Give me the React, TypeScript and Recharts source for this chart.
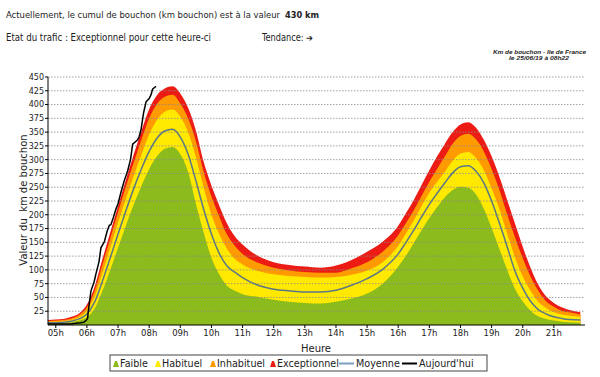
import React from 'react';
import { ComposedChart, Area, Line, XAxis, YAxis, ReferenceLine } from 'recharts';

const hours = [4.75, 5.0, 5.25, 5.5, 5.75, 6.0, 6.25, 6.5, 6.75, 7.0, 7.25, 7.5, 7.75, 8.0, 8.25, 8.5, 8.75, 9.0, 9.25, 9.5, 9.75, 10.0, 10.25, 10.5, 10.75, 11.0, 11.5, 12.0, 12.5, 13.0, 13.5, 14.0, 14.5, 15.0, 15.5, 16.0, 16.25, 16.5, 16.75, 17.0, 17.25, 17.5, 17.75, 18.0, 18.25, 18.5, 18.75, 19.0, 19.25, 19.5, 19.75, 20.0, 20.25, 20.5, 20.75, 21.0, 21.25, 21.5, 21.85];

const exceptionnel = [9, 10, 11, 15, 21, 37, 70, 120, 168, 216, 263, 309, 352, 392, 417, 429, 433, 420, 394, 353, 296, 253, 217, 184, 161, 146, 125, 114, 109, 106, 104, 108, 118, 133, 151, 180, 203, 227, 254, 281, 306, 329, 350, 364, 368, 358, 336, 306, 269, 227, 184, 142, 104, 73, 52, 40, 32, 27, 23];
const inhabituel = [7, 8, 9, 12, 18, 32, 62, 110, 157, 205, 251, 294, 336, 375, 401, 414, 418, 402, 375, 334, 278, 233, 197, 164, 144, 129, 113, 104, 99, 96, 95, 95, 103, 114, 133, 163, 185, 208, 234, 260, 283, 306, 329, 343, 347, 337, 315, 283, 245, 201, 159, 121, 88, 62, 43, 33, 26, 23, 19];
const habituel = [6, 6, 7, 9, 14, 26, 52, 95, 140, 186, 229, 270, 309, 346, 372, 387, 391, 378, 350, 305, 250, 200, 165, 138, 120, 110, 98, 92, 89, 87, 86, 87, 91, 99, 114, 144, 166, 190, 216, 240, 260, 278, 298, 311, 314, 303, 281, 248, 210, 166, 123, 88, 62, 42, 31, 23, 19, 17, 15];
const moyenne = [4, 4, 5, 7, 11, 20, 42, 80, 122, 165, 207, 247, 283, 315, 339, 352, 355, 341, 310, 262, 210, 165, 130, 107, 96, 86, 72, 65, 62, 60, 60, 63, 72, 84, 101, 129, 150, 172, 196, 219, 239, 258, 276, 287, 289, 279, 258, 225, 185, 142, 98, 67, 43, 28, 20, 15, 12, 10, 9];
const faible = [3, 3, 4, 5, 8, 14, 30, 62, 100, 140, 180, 218, 252, 283, 306, 320, 323, 310, 278, 220, 168, 122, 92, 71, 62, 56, 51, 46, 42, 40, 39, 42, 48, 57, 75, 106, 126, 149, 172, 194, 214, 232, 245, 251, 249, 237, 211, 176, 138, 100, 66, 43, 26, 16, 11, 8, 6, 5, 4];

const todayHours = [4.75, 5.0, 5.25, 5.5, 5.65, 5.8, 5.9, 5.97, 6.02, 6.07, 6.13, 6.23, 6.3, 6.39, 6.45, 6.56, 6.65, 6.72, 6.77, 6.85, 6.93, 7.0, 7.09, 7.2, 7.31, 7.4, 7.47, 7.55, 7.63, 7.68, 7.74, 7.82, 7.9, 8.0, 8.06, 8.11, 8.17, 8.22];
const todayValues = [2, 2, 2, 2, 3, 4, 5, 8, 12, 36, 62, 78, 95, 115, 140, 151, 170, 181, 182, 195, 210, 220, 240, 262, 280, 300, 328, 332, 336, 342, 355, 385, 405, 411, 418, 428, 431, 433];

const xTicks = [5, 6, 7, 8, 9, 10, 11, 12, 13, 14, 15, 16, 17, 18, 19, 20, 21];
const yTicks = [25, 50, 75, 100, 125, 150, 175, 200, 225, 250, 275, 300, 325, 350, 375, 400, 425, 450];

const legendItems = [
  { name: 'Faible', color: '#8cbb1d', kind: 'area' },
  { name: 'Habituel', color: '#ffe900', kind: 'area' },
  { name: 'Inhabituel', color: '#ff9a00', kind: 'area' },
  { name: 'Exceptionnel', color: '#ec1c14', kind: 'area' },
  { name: 'Moyenne', color: '#7a9ec0', kind: 'line' },
  { name: "Aujourd'hui", color: '#000000', kind: 'line' },
];
const legendX = [113, 155, 210, 270, 339, 402];

const data = hours.map((h, i) => ({
  h,
  exc: exceptionnel[i],
  inh: inhabituel[i],
  hab: habituel[i],
  moy: moyenne[i],
  fai: faible[i],
}));
const todayData = todayHours.map((h, i) => ({ h, today: todayValues[i] }));

const FONT = "'DejaVu Sans', Verdana, sans-serif";
const FONT_C = "'DejaVu Sans Condensed', 'DejaVu Sans', sans-serif";
const fmtHour = (v: number) => (v < 10 ? '0' : '') + v + 'h';

export default function App() {
  return (
    <div style={{ position: 'absolute', left: 0, top: 0, width: 600, height: 377, background: '#fff', fontFamily: FONT }}>
      <ComposedChart
        width={600}
        height={377}
        data={data}
        margin={{ top: 77, right: 15, left: 8, bottom: 32 }}
      >
        <XAxis
          type="number"
          dataKey="h"
          domain={[4.75, 22]}
          ticks={xTicks}
          interval={0}
          tickFormatter={fmtHour}
          allowDataOverflow
          height={20}
          tickSize={3}
          tickMargin={2}
          axisLine={{ stroke: '#000', strokeWidth: 1 }}
          tickLine={{ stroke: '#000' }}
          tick={{ fontSize: 8.5, fill: '#222', fontFamily: FONT }}
        />
        <YAxis
          type="number"
          domain={[0, 450]}
          ticks={yTicks}
          interval={0}
          width={40}
          tickSize={3}
          tickMargin={1}
          axisLine={{ stroke: '#000', strokeWidth: 1 }}
          tickLine={{ stroke: '#000' }}
          tick={{ fontSize: 8, fill: '#222', fontFamily: FONT }}
        />
        <Area type="monotone" dataKey="exc" stroke="none" fill="#ec1c14" fillOpacity={1} isAnimationActive={false} />
        <Area type="monotone" dataKey="inh" stroke="none" fill="#ff9a00" fillOpacity={1} isAnimationActive={false} />
        <Area type="monotone" dataKey="hab" stroke="none" fill="#ffe900" fillOpacity={1} isAnimationActive={false} />
        <Area type="monotone" dataKey="fai" stroke="none" fill="#8cbb1d" fillOpacity={1} isAnimationActive={false} />
        {yTicks.map((v) => (
          <ReferenceLine key={v} y={v} stroke="#8a8a8a" strokeWidth={0.8} strokeDasharray="1.5 1.5" />
        ))}
        <Line type="monotone" dataKey="moy" stroke="#5d7686" strokeWidth={1.5} dot={false} isAnimationActive={false} />
        <Line data={todayData} type="linear" dataKey="today" stroke="#000" strokeWidth={1.5} dot={false} isAnimationActive={false} />
      </ComposedChart>
      <svg width={600} height={377} style={{ position: 'absolute', left: 0, top: 0, pointerEvents: 'none' }} fontFamily={FONT}>
        <text x={6} y={18} fontSize={9.2} fontFamily={FONT_C} fill="#222" textLength={274} lengthAdjust="spacingAndGlyphs">
          Actuellement, le cumul de bouchon (km bouchon) est à la valeur
        </text>
        <text x={285} y={18} fontSize={9.2} fontFamily={FONT_C} fontWeight="bold" fill="#222" textLength={34} lengthAdjust="spacingAndGlyphs">
          430 km
        </text>
        <text x={6} y={41} fontSize={9.6} fontFamily={FONT_C} fill="#222" textLength={205} lengthAdjust="spacingAndGlyphs">
          Etat du trafic : Exceptionnel pour cette heure-ci
        </text>
        <text x={262} y={41} fontSize={9.6} fontFamily={FONT_C} fill="#222" textLength={51} lengthAdjust="spacingAndGlyphs">
          Tendance: ➔
        </text>
        <text x={586} y={53.5} fontSize={6} fontFamily="'Liberation Sans', Arial, sans-serif" fontStyle="italic" fontWeight="bold" fill="#222" textAnchor="end" textLength={93} lengthAdjust="spacingAndGlyphs">
          Km de bouchon - Ile de France
        </text>
        <text x={569} y={60} fontSize={6} fontFamily="'Liberation Sans', Arial, sans-serif" fontStyle="italic" fontWeight="bold" fill="#222" textAnchor="end" textLength={60} lengthAdjust="spacingAndGlyphs">
          le 25/06/19 à 08h22
        </text>
        <text x={23} y={200} fontSize={10} fill="#222" textAnchor="middle" dominantBaseline="central" transform="rotate(-90 23 200)" style={{ whiteSpace: 'pre' }}>
          Valeur du  km de bouchon
        </text>
        <text x={316} y={352} fontSize={10} fill="#222" textAnchor="middle">Heure</text>
        <rect x={110} y={355} width={377} height={16} fill="#fff" stroke="#444" strokeWidth={1} />
        {legendItems.map((it, i) => {
          const x = legendX[i];
          return (
            <g key={it.name}>
              {it.kind === 'area' ? (
                <polygon points={`${x},${367} ${x + 2},${361} ${x + 4},${361} ${x + 6},${367}`} fill={it.color} />
              ) : (
                <line x1={x} y1={363.5} x2={x + 15} y2={363.5} stroke={it.color} strokeWidth={2} />
              )}
              <text x={it.kind === 'area' ? x + 7 : x + 17} y={367} fontSize={9.6} fill="#222">{it.name}</text>
            </g>
          );
        })}
      </svg>
    </div>
  );
}
